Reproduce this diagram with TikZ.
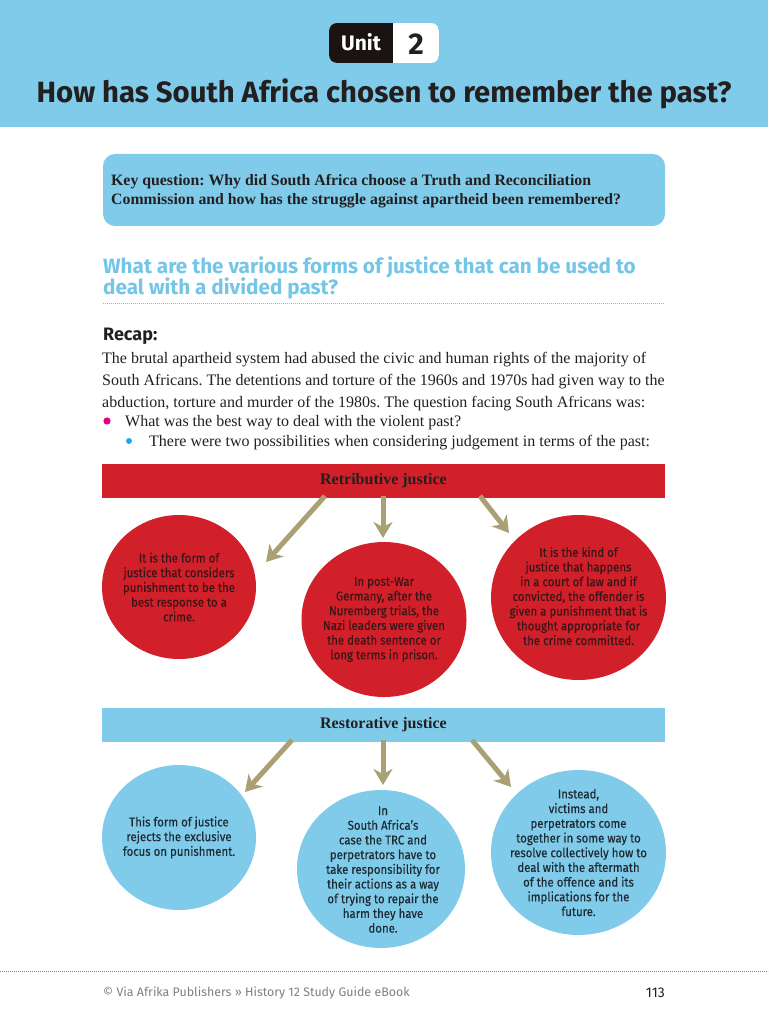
\documentclass[tikz,border=0pt]{standalone}
\usepackage{fontspec}
\setmainfont{Liberation Serif}
\setsansfont{Fira Sans}
\newfontfamily\circfont[FakeStretch=0.9,FakeBold=0.3]{Fira Sans}
\usetikzlibrary{shapes.geometric,arrows.meta}
\frenchspacing
\definecolor{band}{HTML}{7FCBE9}
\definecolor{redc}{HTML}{D1202A}
\definecolor{arrowc}{HTML}{A9A074}
\definecolor{headblue}{HTML}{75C5E6}
\definecolor{magentab}{HTML}{E6007E}
\definecolor{cyanb}{HTML}{1EAAE7}
\definecolor{footgray}{HTML}{808080}
\definecolor{darktext}{HTML}{231F20}
\definecolor{redtext}{HTML}{3A1518}
\definecolor{bluetext}{HTML}{1E2A33}
\definecolor{unitblack}{HTML}{1A1311}
\tikzset{
  bodyline/.style={anchor=base west, inner sep=0pt, text=darktext, font=\fontsize{16}{18}\selectfont},
  barbox/.style={minimum width=563pt, minimum height=34pt, inner sep=0pt, text=darktext, font=\bfseries\fontsize{16}{18}\selectfont},
  redcirc/.style={ellipse, fill=redc, inner sep=0pt},
  bluecirc/.style={ellipse, fill=band, inner sep=0pt},
  circtext/.style={align=center, inner sep=0pt, font=\circfont\fontsize{12.7}{14.7}\selectfont},
  arr/.style={arrowc, line width=5pt, -{Stealth[length=16pt,width=19pt,inset=5pt]}}
}
\begin{document}
\begin{tikzpicture}[x=1pt,y=-1pt]
\useasboundingbox (0,0) rectangle (768,1024);
% top band
\fill[band] (0,0) rectangle (768,127);
\begin{scope}
\clip[rounded corners=8pt] (329,23) rectangle (439,63);
\fill[white] (329,23) rectangle (439,63);
\fill[unitblack] (329,23) rectangle (393,63);
\end{scope}
\node[text=white, font=\sffamily\bfseries\fontsize{21}{24}\selectfont, inner sep=0pt] (unit) at (361,42) {Unit};
\node[text=darktext, font=\sffamily\bfseries\fontsize{30}{32}\selectfont, inner sep=0pt] (unitnum) at (416,44) {2};
\node[text=darktext, font=\sffamily\bfseries\fontsize{29.3}{32}\selectfont, inner sep=0pt] (title) at (384,94) {How has South Africa chosen to remember the past?};
% key question
\fill[band, rounded corners=12pt] (103,154) rectangle (665,226);
\node[anchor=base west, inner sep=0pt, text=darktext, font=\bfseries\fontsize{15.8}{18}\selectfont] (kq1) at (111,186) {Key question: Why did South Africa choose a Truth and Reconciliation};
\node[anchor=base west, inner sep=0pt, text=darktext, font=\bfseries\fontsize{15.8}{18}\selectfont] (kq2) at (111,205) {Commission and how has the struggle against apartheid been remembered?};
% heading
\node[anchor=base west, inner sep=0pt, text=headblue, font=\sffamily\bfseries\fontsize{20.7}{22}\selectfont] (h1) at (103,273) {What are the various forms of justice that can be used to};
\node[anchor=base west, inner sep=0pt, text=headblue, font=\sffamily\bfseries\fontsize{20.7}{22}\selectfont] (h2) at (103,294) {deal with a divided past?};
\draw[headblue, line width=0.8pt, dash pattern=on 0.8pt off 1.2pt] (103,303) -- (665,303);
% recap
\node[anchor=base west, inner sep=0pt, text=darktext, font=\sffamily\bfseries\fontsize{18}{20}\selectfont] (recap) at (103,340) {Recap:};
\node[bodyline] (b1) at (102,363) {The brutal apartheid system had abused the civic and human rights of the majority of};
\node[bodyline] (b2) at (102,385) {South Africans. The detentions and torture of the 1960s and 1970s had given way to the};
\node[bodyline] (b3) at (102,407) {abduction, torture and murder of the 1980s. The question facing South Africans was:};
\fill[magentab] (107,421) circle (3.6pt);
\node[bodyline] (b4) at (125,426) {What was the best way to deal with the violent past?};
\fill[cyanb] (129,441) circle (3pt);
\node[bodyline] (b5) at (149,446) {There were two possibilities when considering judgement in terms of the past:};
% retributive
\node[barbox, fill=redc] (ret) at (383.5,481) {Retributive justice};
\node[redcirc, minimum width=154pt, minimum height=144pt] (rc1) at (179,587) {};
\node[redcirc, minimum width=165pt, minimum height=155pt] (rc2) at (384,619.5) {};
\node[redcirc, minimum width=175pt, minimum height=165pt] (rc3) at (578.5,597.5) {};
\node[circtext, text=redtext] (rt1) at (rc1) {It is the form of\\justice that considers\\punishment to be the\\best response to a\\crime.};
\node[circtext, text=redtext] (rt2) at (rc2) {In post-War\\Germany, after the\\Nuremberg trials, the\\Nazi leaders were given\\the death sentence or\\long terms in prison.};
\node[circtext, text=redtext] (rt3) at (578.5,596) {It is the kind of\\justice that happens\\in a court of law and if\\convicted, the offender is\\given a punishment that is\\thought appropriate for\\the crime committed.};
\coordinate (ra1s) at (325,496);
\coordinate (ra1e) at (266,562);
\coordinate (ra2s) at (383,496);
\coordinate (ra2e) at (383,538);
\coordinate (ra3s) at (480,496);
\coordinate (ra3e) at (509,533);
\draw[arr] (ra1s) -- (ra1e);
\draw[arr] (ra2s) -- (ra2e);
\draw[arr] (ra3s) -- (ra3e);
% restorative
\node[barbox, fill=band] (res) at (383.5,725) {Restorative justice};
\node[bluecirc, minimum width=154pt, minimum height=145pt] (bc1) at (179,837.5) {};
\node[bluecirc, minimum width=168pt, minimum height=158pt] (bc2) at (381,869) {};
\node[bluecirc, minimum width=175pt, minimum height=165pt] (bc3) at (578.5,852.5) {};
\node[circtext, text=bluetext] (bt1) at (bc1) {This form of justice\\rejects the exclusive\\focus on punishment.};
\node[circtext, text=bluetext] (bt2) at (383,869.5) {In\\South Africa’s\\case the TRC and\\perpetrators have to\\take responsibility for\\their actions as a way\\of trying to repair the\\harm they have\\done.};
\node[circtext, text=bluetext] (bt3) at (bc3) {Instead,\\victims and\\perpetrators come\\together in some way to\\resolve collectively how to\\deal with the aftermath\\of the offence and its\\implications for the\\future.};
\coordinate (ba1s) at (292,740);
\coordinate (ba1e) at (245,792);
\coordinate (ba2s) at (383,740);
\coordinate (ba2e) at (383,785);
\coordinate (ba3s) at (472,740);
\coordinate (ba3e) at (511,787);
\draw[arr] (ba1s) -- (ba1e);
\draw[arr] (ba2s) -- (ba2e);
\draw[arr] (ba3s) -- (ba3e);
% footer
\draw[magentab!70, line width=0.8pt, dash pattern=on 0.8pt off 1.2pt] (0,971) -- (768,971);
\node[anchor=base west, inner sep=0pt, text=footgray, font=\sffamily\fontsize{12.4}{15}\selectfont] (foot) at (103,996) {© Via Afrika Publishers » History 12 Study Guide eBook};
\node[anchor=base east, inner sep=0pt, text=darktext, font=\sffamily\fontsize{14}{16}\selectfont] (page) at (665,997) {113};
\end{tikzpicture}
\end{document}
